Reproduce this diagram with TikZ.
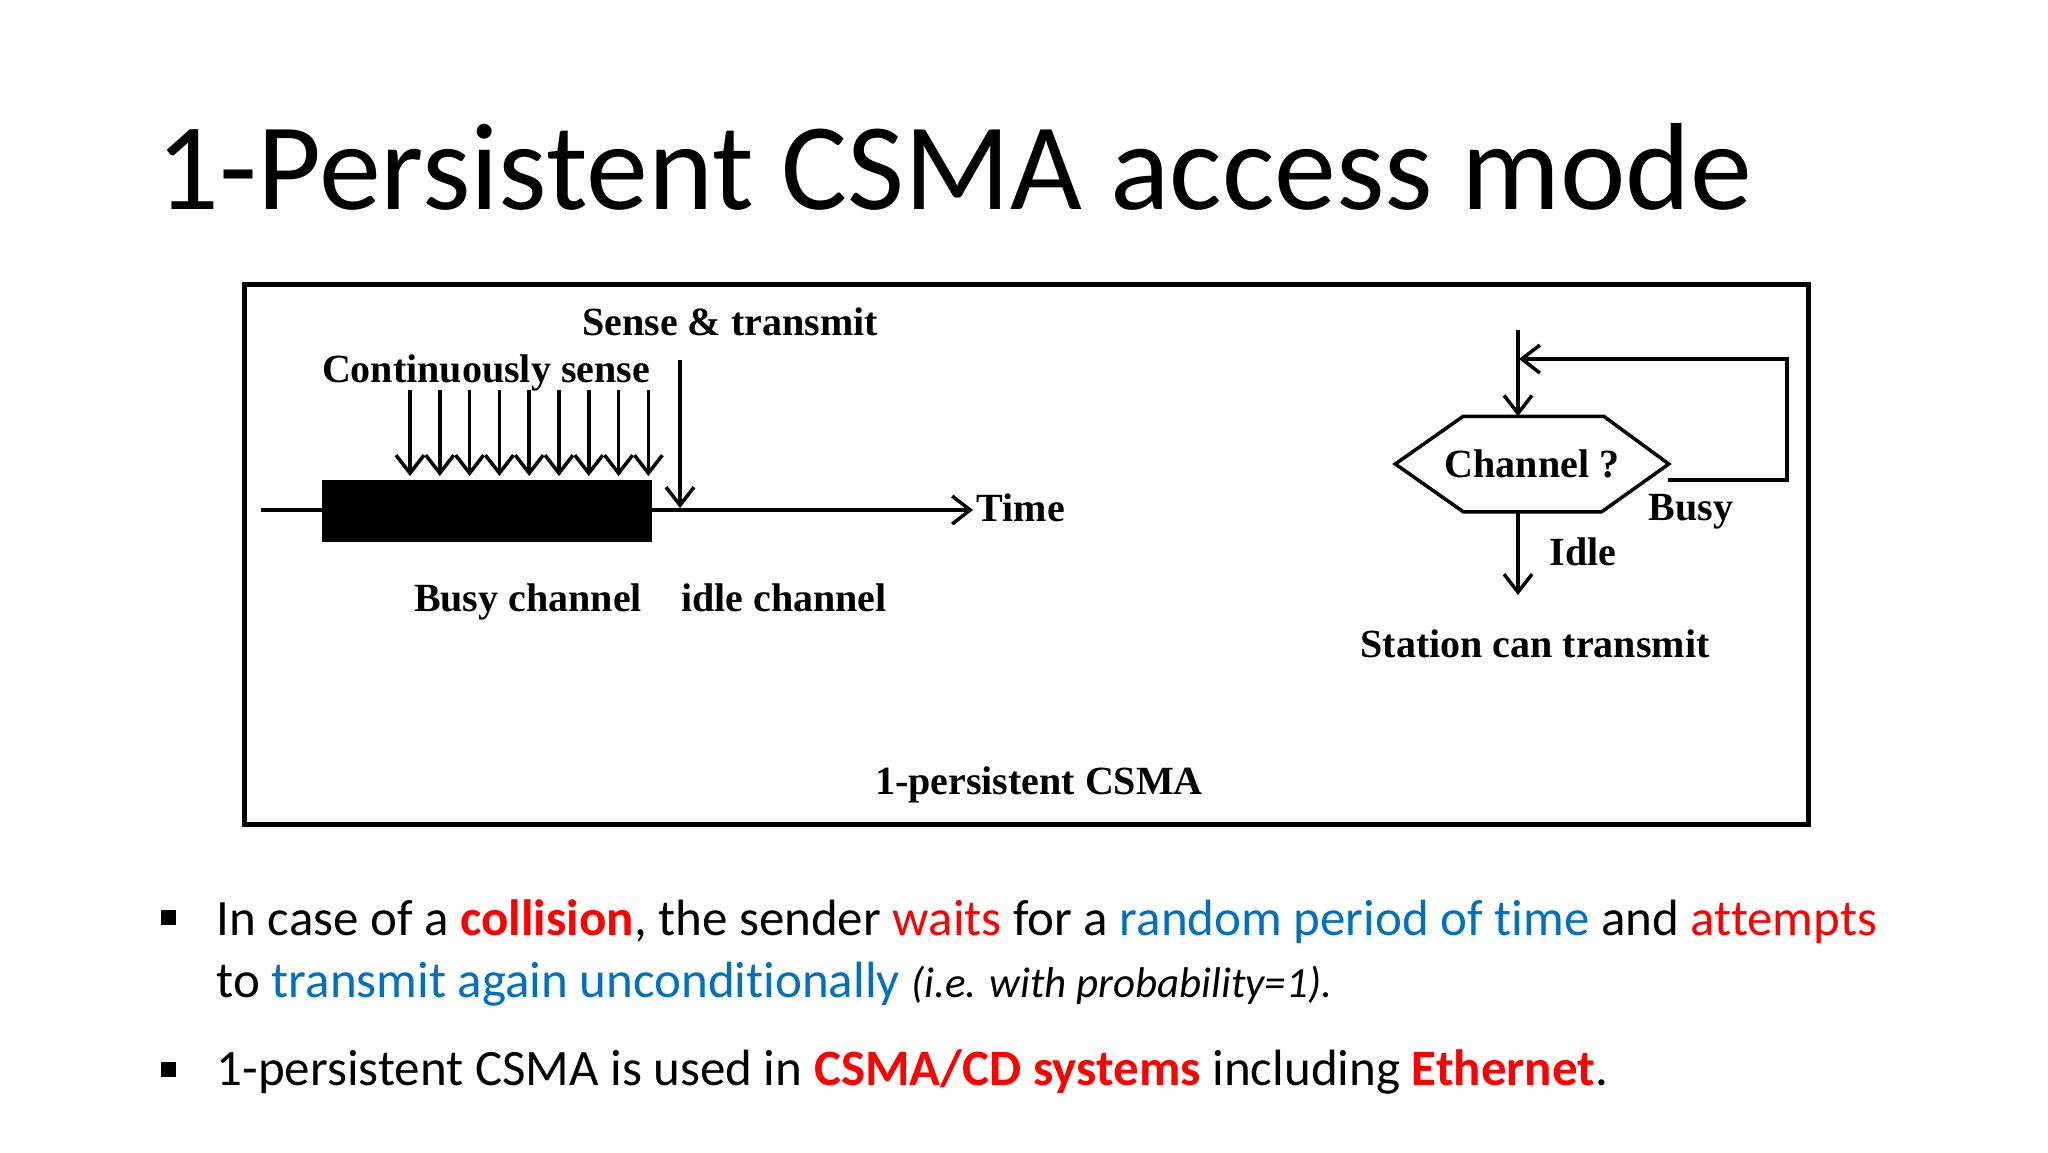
\documentclass[tikz,border=0pt]{standalone}
\usepackage{fontspec}
\setmainfont{Carlito}[Ligatures=NoCommon]
\newfontfamily\diagfont{Liberation Serif}
\usetikzlibrary{arrows.meta}
\definecolor{hred}{RGB}{255,0,0}
\definecolor{hblue}{RGB}{0,112,192}
\begin{document}
\begin{tikzpicture}[x=1pt,y=-1pt,
  line width=3.5pt,
  tip/.style={-{Straight Barb[length=18pt,width=28pt,line width=3.5pt]}},
  dtext/.style={font=\diagfont\bfseries\fontsize{40}{42}\selectfont, inner sep=0pt, anchor=base},
  btext/.style={font=\fontsize{51}{60}\selectfont, inner sep=0pt, anchor=base west},
  bullet/.style={fill=black, minimum size=15pt, inner sep=0pt}
]
\useasboundingbox[fill=white] (0,0) rectangle (2048,1152);

% title
\node[anchor=base west, inner sep=0pt, font=\fontsize{124}{130}\selectfont] (title) at (155,209) {1-Persistent CSMA access mode};

% frame
\node[draw, line width=5pt, minimum width=1564pt, minimum height=540pt, inner sep=0pt, anchor=north west] (frame) at (241.5,281.5) {};

% ---- left: time line ----
\coordinate (t0) at (261,510);
\coordinate (t1) at (973,510);
\draw[tip] (t0) -- (t1);
\node[fill=black, minimum width=330pt, minimum height=62pt, inner sep=0pt, anchor=north west] (busy) at (320,478) {};
\node[dtext, anchor=base west] (time) at (975,521) {Time};

\foreach \i in {0,...,8}{
  \coordinate (s\i) at ({410+29.8*\i},390);
  \coordinate (e\i) at ({410+29.8*\i},476);
  \draw[tip] (s\i) -- (e\i);
}
\coordinate (st0) at (680,360);
\coordinate (st1) at (680,508);
\draw[tip] (st0) -- (st1);

\node[dtext] (senset) at (730,335) {Sense \& transmit};
\node[dtext] (cont) at (486,382) {Continuously sense};
\node[dtext] (busyl) at (528,611) {Busy channel};
\node[dtext] (idlel) at (784,611) {idle channel};
\node[dtext] (cap) at (1039,794) {1-persistent CSMA};

% ---- right: flow chart ----
\node[font=\diagfont\bfseries\fontsize{40}{42}\selectfont, minimum width=270pt, minimum height=92pt, inner sep=0pt] (ch) at (1532,464) {Channel ?};
\draw (ch.west) -- ([xshift=68pt]ch.north west) -- ([xshift=-65pt]ch.north east) -- (ch.east)
  -- ([xshift=-67pt]ch.south east) -- ([xshift=68pt]ch.south west) -- cycle;
\coordinate (in) at (1518,330);
\draw[tip] (in) -- (in |- ch.north);
\coordinate (b0) at (1668,480);
\coordinate (b1) at (1787,480);
\coordinate (b2) at (1787,359);
\coordinate (b3) at (1519,359);
\draw[tip] (b0) -- (b1) -- (b2) -- (b3);
\coordinate (out) at (1518,595);
\draw[tip] (in |- ch.south) -- (out);
\node[dtext] (busyr) at (1691,520) {Busy};
\node[dtext] (idler) at (1583,565) {Idle};
\node[dtext] (stat) at (1535,657) {Station can transmit};

% ---- bullets ----
\node[bullet] (bu1) at (168,917) {};
\node[bullet] (bu2) at (168,1069) {};
\node[btext] (l1) at (215,935) {In case of a \textcolor{hred}{\textbf{collision}}, the sender \textcolor{hred}{waits} for a \textcolor{hblue}{random period of time} and \textcolor{hred}{attempts}};
\node[btext] (l2) at (215,997) {to \textcolor{hblue}{transmit again unconditionally} {\fontsize{43}{48}\selectfont\itshape (i.e. with probability=1).}};
\node[btext] (l3) at (215,1085) {1-persistent CSMA is used in \textcolor{hred}{\textbf{CSMA/CD systems}} including \textcolor{hred}{\textbf{Ethernet}}.};
\end{tikzpicture}
\end{document}
